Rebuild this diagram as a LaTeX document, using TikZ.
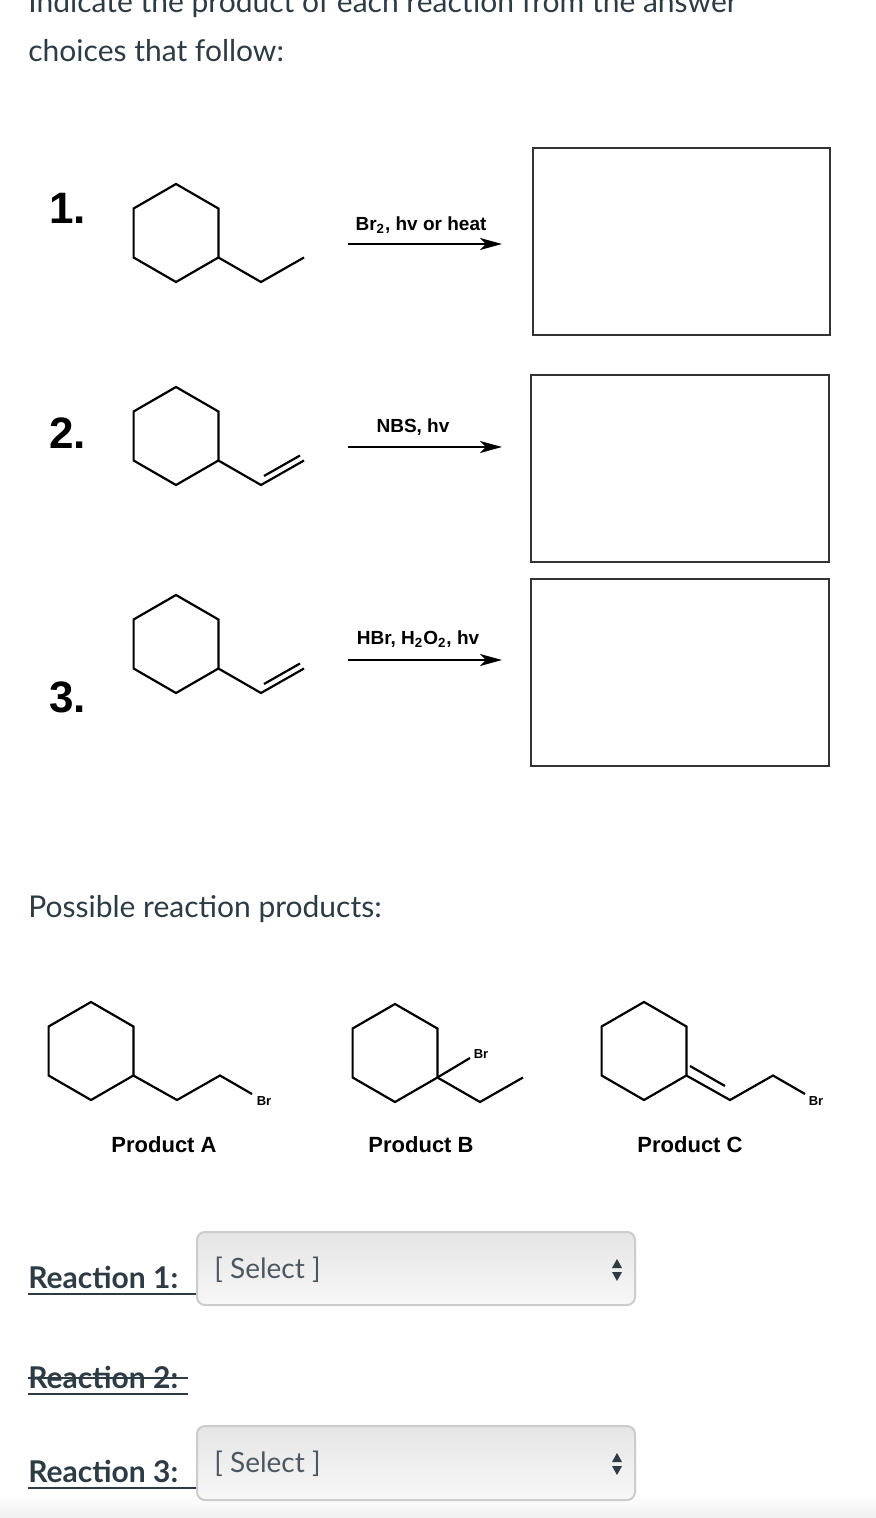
\documentclass[tikz,border=0pt]{standalone}
\usepackage{fontspec}
\setmainfont{Lato}
\newfontfamily\hv{Liberation Sans}
\usetikzlibrary{arrows.meta}
\definecolor{txt}{HTML}{2D3B45}
\tikzset{
  bond/.style={line width=1.1pt,line join=miter},
  rxarrow/.style={line width=0.8pt,-{Stealth[length=11pt,width=6pt,inset=3pt]}},
  num/.style={font=\hv\bfseries\fontsize{22}{24}\selectfont,anchor=west},
  cond/.style={font=\hv\bfseries\fontsize{9.5}{10}\selectfont},
  brlab/.style={font=\hv\bfseries\fontsize{6.5}{7}\selectfont},
  plab/.style={font=\hv\bfseries\fontsize{11}{12}\selectfont},
  ansbox/.style={draw=black!80,line width=0.8pt},
  body/.style={font=\fontsize{15}{18}\selectfont,text=txt,anchor=base west,inner sep=0pt},
  rlab/.style={body,font=\bfseries\fontsize{15}{18}\selectfont},
  selbox/.style={draw=black!20,line width=1pt,rounded corners=4pt,top color=black!10,bottom color=black!3},
  seltxt/.style={font=\fontsize{14}{16}\selectfont,text=txt!85,anchor=base west,inner sep=0pt},
}
\newcommand\hexring[2]{\draw[bond] (#1,#2) ++(0,-49) -- ++(42.4,24.5) -- ++(0,49) -- ++(-42.4,24.5) -- ++(-42.4,-24.5) -- ++(0,-49) -- cycle;}
\newcommand\updown[2]{\fill[txt] (#1-5,#2-2) -- (#1+5,#2-2) -- (#1,#2-11) -- cycle;
  \fill[txt] (#1-5,#2+2) -- (#1+5,#2+2) -- (#1,#2+11) -- cycle;}
\begin{document}
\begin{tikzpicture}[x=0.5pt,y=-0.5pt]
\useasboundingbox (0,0) rectangle (876,1518);
\fill[white] (0,0) rectangle (876,1518);
\shade[top color=white,bottom color=black!6] (0,1495) rectangle (876,1518);
% header
\node[body] (h1) at (28,13) {Indicate the product of each reaction from the answer};
\node[body] (h2) at (28,62) {choices that follow:};
% numbers
\node[num] (n1) at (42,208) {1.};
\node[num] (n2) at (42,433) {2.};
\node[num] (n3) at (42,697) {3.};
% molecule 1
\hexring{176}{233}
\draw[bond] (218.4,257.5) -- (261,282) -- (304,257.5);
% molecule 2
\hexring{176}{436}
\draw[bond] (218.4,460.5) -- (261,485) -- (304,460.5);
\draw[bond] (264,476) -- (300,455.5);
% molecule 3
\hexring{176}{644}
\draw[bond] (218.4,668.5) -- (261,693) -- (304,668.5);
\draw[bond] (264,684) -- (300,663.5);
% arrows
\coordinate (a1s) at (348,244); \coordinate (a1e) at (502,244);
\coordinate (a2s) at (348,447); \coordinate (a2e) at (502,447);
\coordinate (a3s) at (348,660); \coordinate (a3e) at (502,660);
\draw[rxarrow] (a1s) -- (a1e);
\draw[rxarrow] (a2s) -- (a2e);
\draw[rxarrow] (a3s) -- (a3e);
\node[cond] (c1) at (421,225) {Br\textsubscript{2}, hv or heat};
\node[cond] (c2) at (413,427) {NBS, hv};
\node[cond] (c3) at (418,639) {HBr, H\textsubscript{2}O\textsubscript{2}, hv};
% answer boxes
\draw[ansbox] (533,148) rectangle (830,335);
\draw[ansbox] (531,375) rectangle (829,562);
\draw[ansbox] (531,579) rectangle (829,766);
% products
\node[body] (pp) at (28,917) {Possible reaction products:};
% A
\hexring{91}{1051}
\draw[bond] (133.4,1075.5) -- (177,1100) -- (220,1075.5) -- (252,1094);
\node[brlab] (brA) at (264,1101) {Br};
\node[plab] (pA) at (164,1145) {Product A};
% B
\hexring{395}{1053}
\draw[bond] (437.4,1077.5) -- (470,1058);
\draw[bond] (437.4,1077.5) -- (480,1102) -- (523,1077.5);
\node[brlab] (brB) at (481,1054) {Br};
\node[plab] (pB) at (421,1145) {Product B};
% C
\hexring{644}{1051}
\draw[bond] (686.4,1075.5) -- (730,1100) -- (773,1075.5) -- (805,1094);
\draw[bond] (690,1066) -- (725,1086);
\node[brlab] (brC) at (816,1101) {Br};
\node[plab] (pC) at (690,1145) {Product C};
% selects
\node[rlab] (r1) at (28,1288) {Reaction 1:};
\draw[txt,line width=1.2pt] (28,1294) -- (197,1294);
\draw[selbox] (197,1232) rectangle (635,1305);
\node[seltxt] (s1) at (214,1278) {[ Select ]};
\updown{617}{1270}
\node[rlab] (r2) at (28,1388) {Reaction 2:};
\draw[txt,line width=1.2pt] (28,1394) -- (188,1394);
\draw[txt,line width=1.2pt] (28,1378) -- (188,1378);
\node[rlab] (r3) at (28,1482) {Reaction 3:};
\draw[txt,line width=1.2pt] (28,1488) -- (197,1488);
\draw[selbox] (197,1426) rectangle (635,1500);
\node[seltxt] (s3) at (214,1472) {[ Select ]};
\updown{617}{1464}
\end{tikzpicture}
\end{document}
